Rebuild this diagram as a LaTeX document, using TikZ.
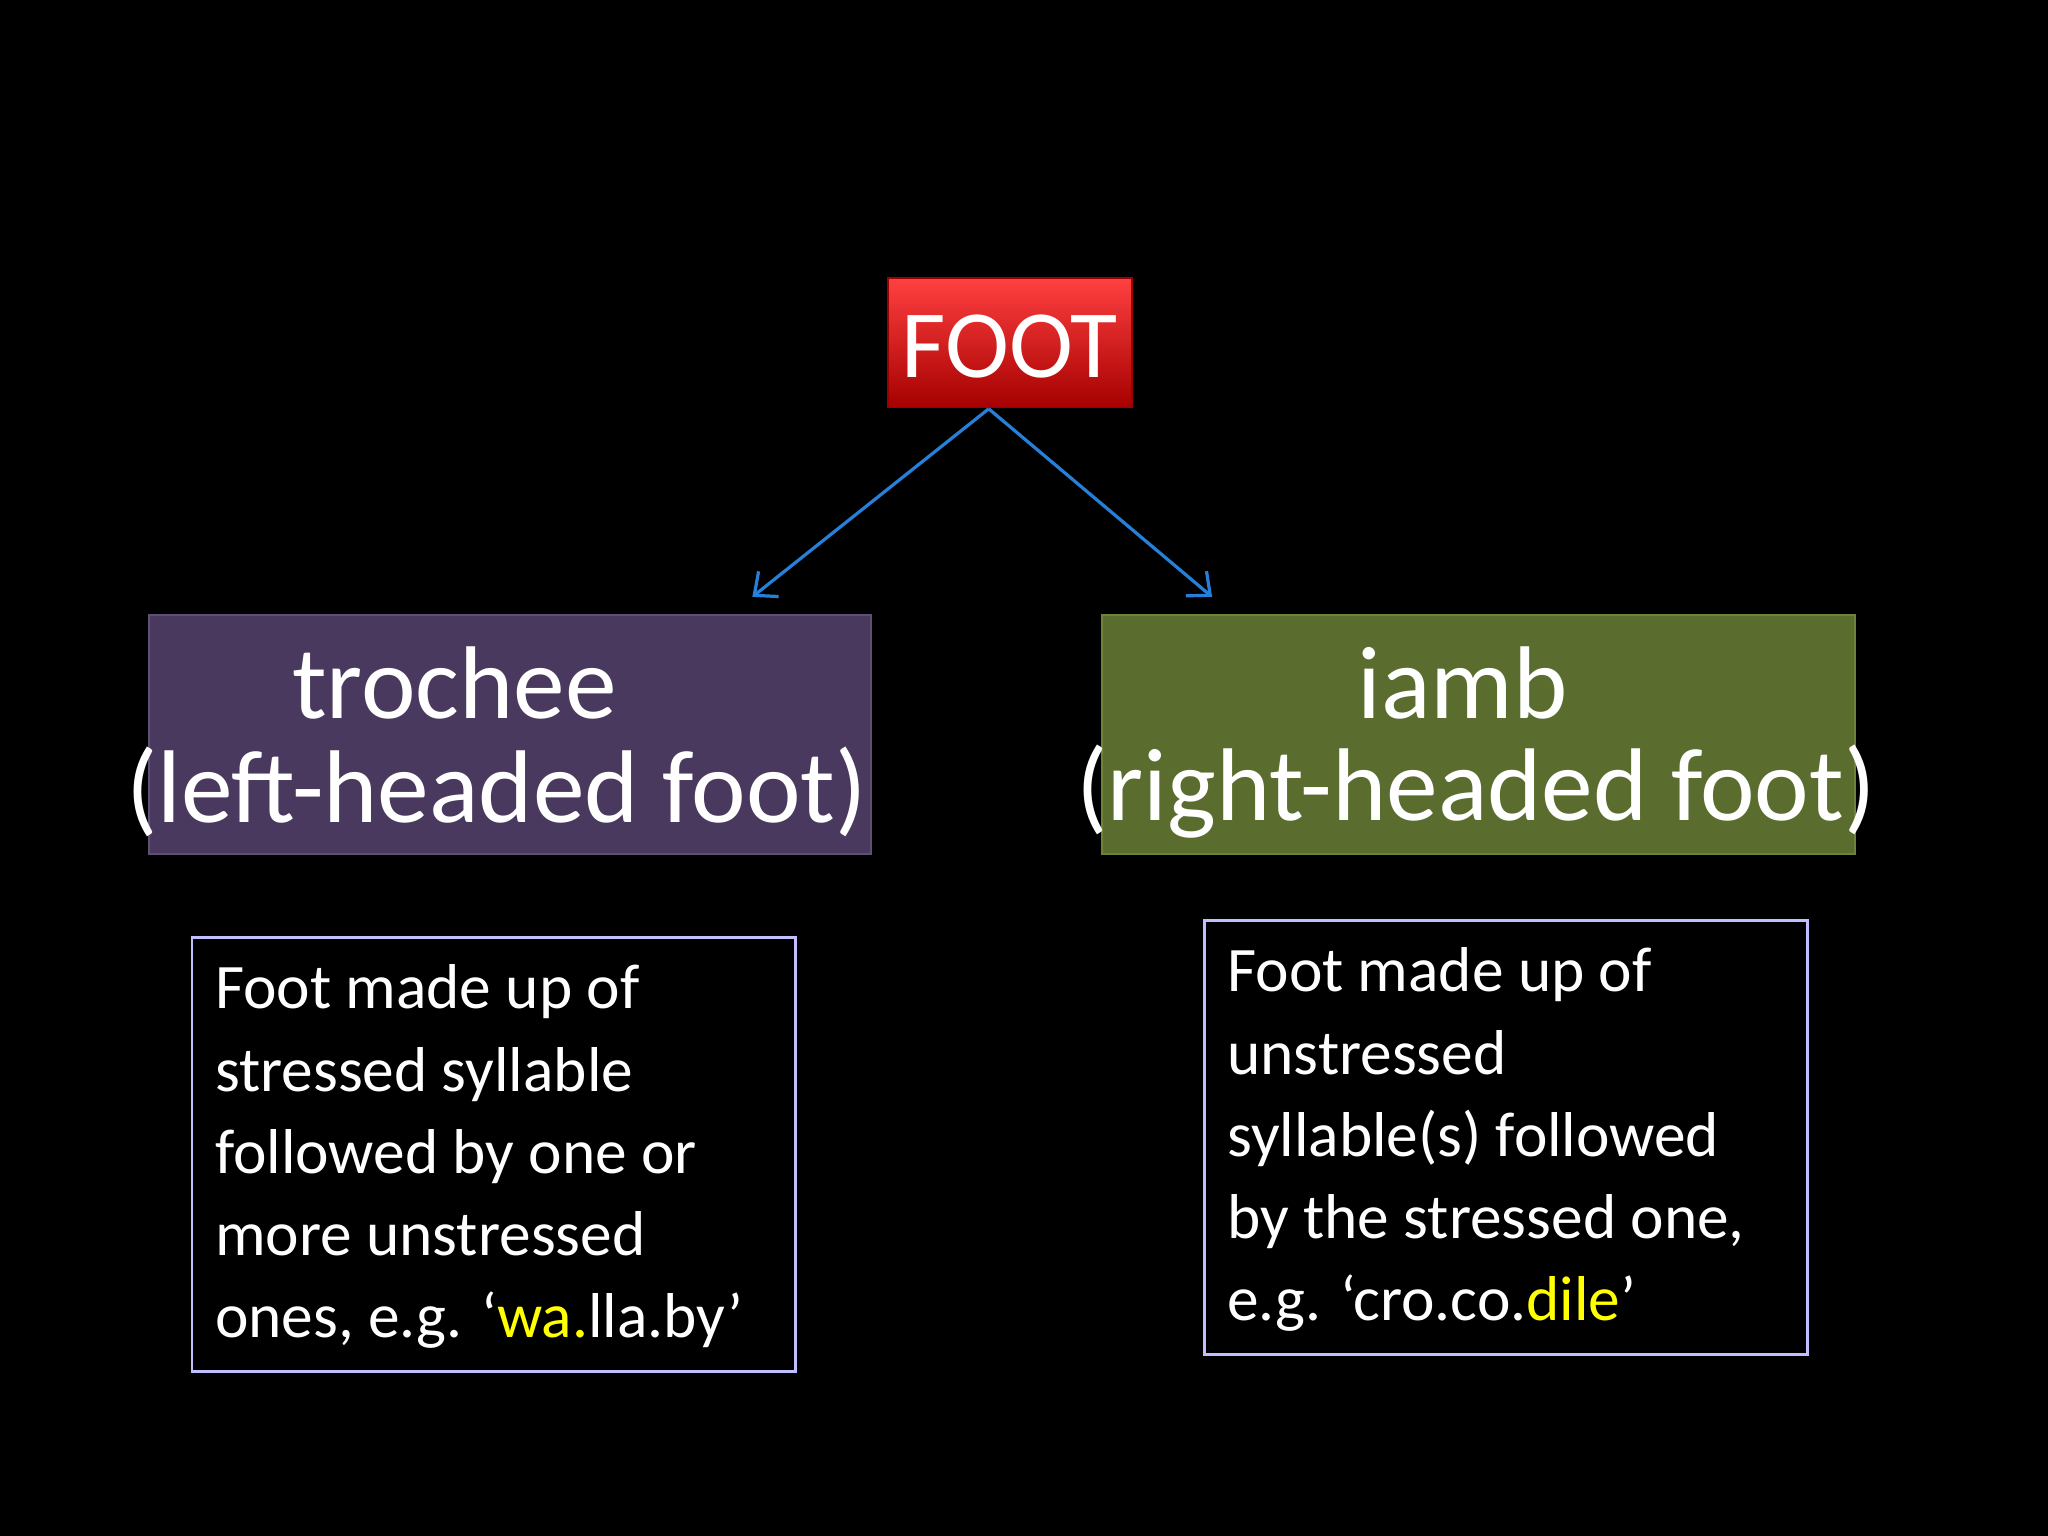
\documentclass[tikz,border=0pt]{standalone}
\usepackage{fontspec}
\setmainfont{Carlito}
\usetikzlibrary{arrows.meta}
\definecolor{ylw}{RGB}{255,255,0}
\tikzset{
  px/.style={x=0.01cm,y=-0.01cm},
  head/.style={draw=#1!70!black, line width=0.8pt, text=white, inner sep=0pt},
  desc/.style={draw=white!75!blue, line width=0.6pt, text=white, inner sep=0pt},
  arr/.style={draw=blue!50!cyan!70!gray, line width=0.7pt, -{Straight Barb[length=4pt,width=7pt]}}
}
\begin{document}
\begin{tikzpicture}[px]
\fill[black] (0,0) rectangle (1568,1176);
\useasboundingbox (0,0) rectangle (1568,1176);
\shade[top color=red!75!white, bottom color=red!65!black, draw=red!60!black] (680,213) rectangle (867,312);
\node[text=white, font=\fontsize{21}{24}\selectfont] (foot) at (773,265) {FOOT};
\coordinate (ftop) at (757,313);
\fill[fill={rgb,255:red,74;green,57;blue,94}, draw={rgb,255:red,95;green,80;blue,115}] (114,471) rectangle (667,654);
\node[text=white, font=\fontsize{22.5}{24}\selectfont] (tro) at (348,523) {trochee};
\node[text=white, font=\fontsize{22.5}{24}\selectfont] (tro2) at (380,606) {(left-headed foot)};
\fill[fill={rgb,255:red,90;green,109;blue,46}, draw={rgb,255:red,110;green,130;blue,60}] (844,471) rectangle (1420,654);
\node[text=white, font=\fontsize{22.5}{24}\selectfont] (iamb) at (1120,523) {iamb};
\node[text=white, font=\fontsize{22.5}{24}\selectfont] (iamb2) at (1130,606) {(right-headed foot)};
\coordinate (la) at (576,457);
\coordinate (ra) at (928,457);
\draw[arr] (ftop) -- (la);
\draw[arr] (ftop) -- (ra);
\draw[desc] (147,718) rectangle (609,1050);
\node[text=white, anchor=north west, align=left, inner sep=0pt, font=\fontsize{13.8}{17.9}\selectfont] (ltxt) at (164,738)
 {Foot made up of\\stressed syllable\\followed by one or\\more unstressed\\ones, e.g. ‘\textcolor{ylw}{wa.}lla.by’};
\draw[desc] (922,705) rectangle (1384,1037);
\node[text=white, anchor=north west, align=left, inner sep=0pt, font=\fontsize{13.8}{17.9}\selectfont] (rtxt) at (939,725)
 {Foot made up of\\unstressed\\syllable(s) followed\\by the stressed one,\\e.g. ‘cro.co.\textcolor{ylw}{dile}’};
\end{tikzpicture}
\end{document}
